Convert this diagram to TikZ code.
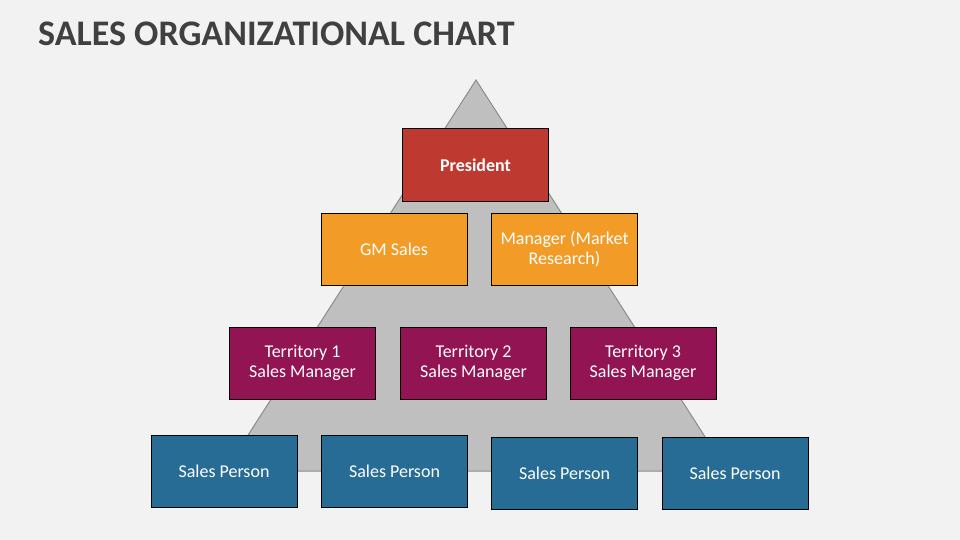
\documentclass[tikz,border=0pt]{standalone}
\usepackage{fontspec}
\setmainfont{Carlito}
\definecolor{bgc}{HTML}{F2F2F2}
\definecolor{titlec}{HTML}{404040}
\definecolor{pyrfill}{HTML}{BFBFBF}
\definecolor{pyrline}{HTML}{8C8C8C}
\definecolor{redc}{HTML}{BE3A30}
\definecolor{orangec}{HTML}{F29C27}
\definecolor{maroonc}{HTML}{921452}
\definecolor{bluec}{HTML}{276C94}
\tikzset{
  orgbox/.style={draw=black, line width=1pt, minimum width=146pt, minimum height=72pt,
    inner sep=2pt, text=white, align=center, font=\fontsize{18}{20}\selectfont},
  presbox/.style={orgbox, fill=redc, font=\fontsize{18}{20}\selectfont\bfseries},
  gmbox/.style={orgbox, fill=orangec},
  terrbox/.style={orgbox, fill=maroonc},
  salesbox/.style={orgbox, fill=bluec}
}
\begin{document}
\begin{tikzpicture}[x=1pt,y=-1pt]
\useasboundingbox (0,0) rectangle (960,540);
\fill[bgc] (0,0) rectangle (960,540);
\node[anchor=base west, text=titlec, font=\fontsize{36}{42}\selectfont\bfseries, inner sep=0pt] (title) at (38,46) {SALES ORGANIZATIONAL CHART};
\fill[pyrfill, draw=pyrline, line width=1pt] (476,80) -- (727,471) -- (225,471) -- cycle;
\node[presbox] (pres) at (475.5,165) {President};
\node[gmbox] (gm) at (394,249) {GM Sales};
\node[gmbox] (mr) at (564.5,249) {Manager (Market\\Research)};
\node[terrbox] (t1) at (302.5,363) {Territory 1\\Sales Manager};
\node[terrbox] (t2) at (473.5,363) {Territory 2\\Sales Manager};
\node[terrbox] (t3) at (643,363) {Territory 3\\Sales Manager};
\node[salesbox] (s1) at (224,471) {Sales Person};
\node[salesbox] (s2) at (394.5,471) {Sales Person};
\node[salesbox] (s3) at (564.5,473) {Sales Person};
\node[salesbox] (s4) at (735,473) {Sales Person};
\end{tikzpicture}
\end{document}
